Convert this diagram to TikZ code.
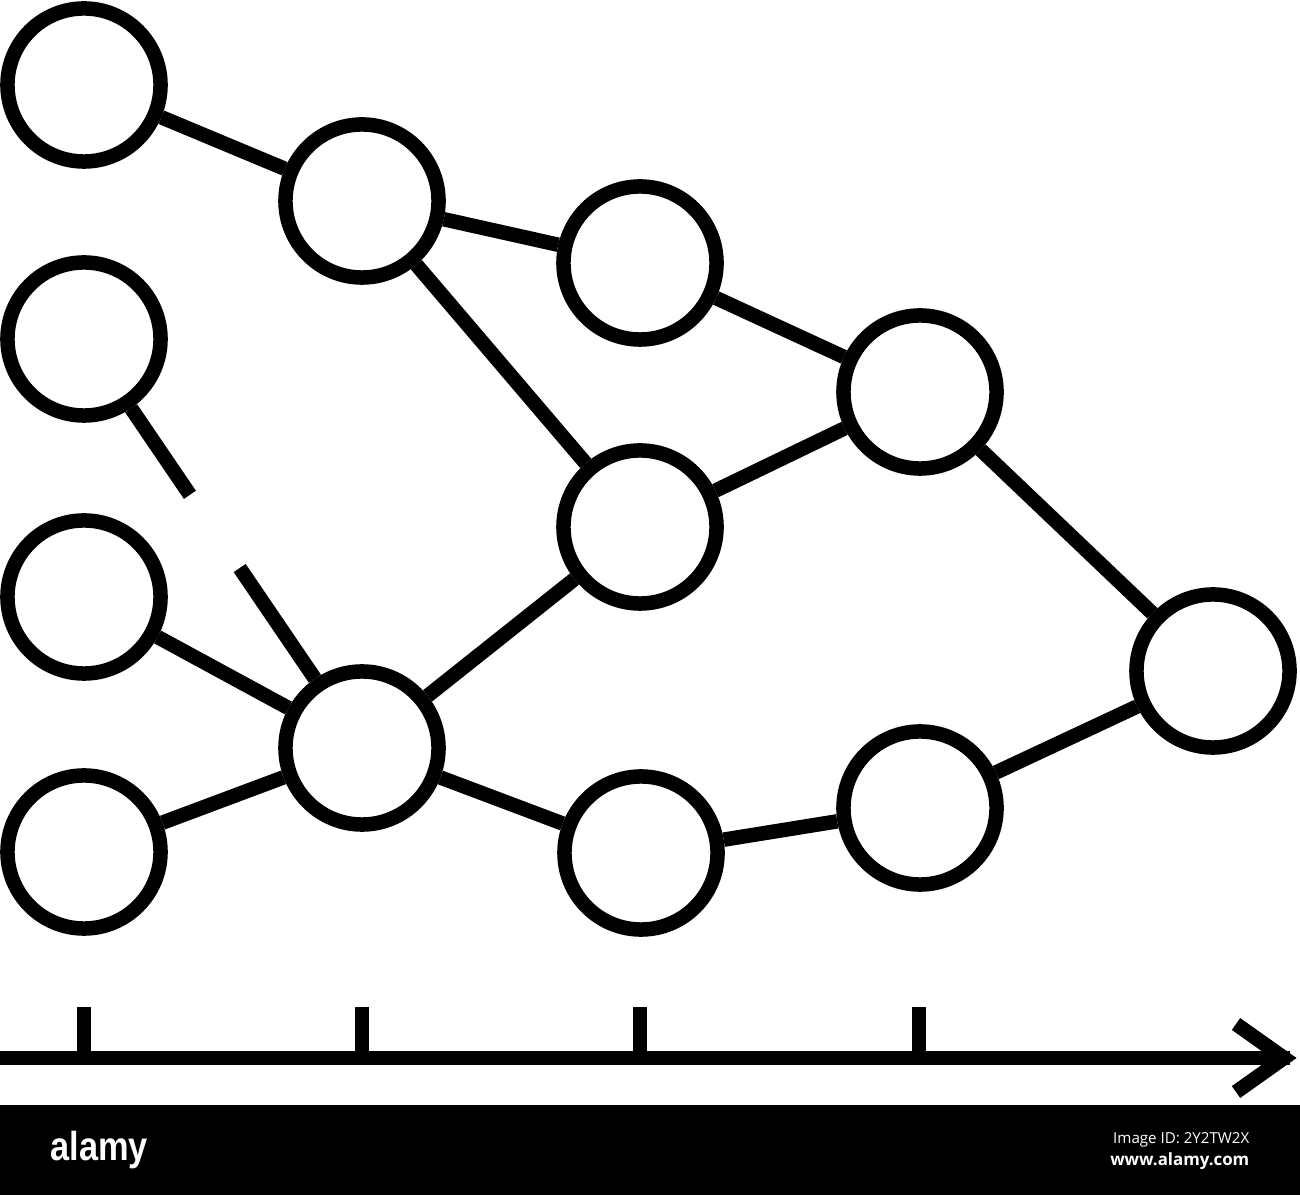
\documentclass[tikz,border=0pt]{standalone}
\usepackage{fontspec}
\setmainfont{Open Sans}
\newfontfamily\logofont{Liberation Sans}
\usetikzlibrary{calc}
\begin{document}
\begin{tikzpicture}[x=0.01cm,y=-0.01cm,
  dot/.style={circle,draw=black,line width=0.145cm,minimum size=1.53cm,inner sep=0pt},
  link/.style={line width=0.145cm},
  ]
\useasboundingbox (0,0) rectangle (1300,1195);
\fill[white] (0,0) rectangle (1300,1195);
% nodes
\node[dot] (c1) at (84,85) {};
\node[dot] (c2) at (362,201) {};
\node[dot] (c3) at (640,263) {};
\node[dot] (c4) at (920,392) {};
\node[dot] (c5) at (640,527) {};
\node[dot] (c6) at (84,339) {};
\node[dot] (c7) at (84,597) {};
\node[dot] (c8) at (362,748) {};
\node[dot] (c9) at (84,852) {};
\node[dot] (c10) at (641,853) {};
\node[dot] (c11) at (920,808) {};
\node[dot] (c12) at (1213,671) {};
% links
\draw[link] (c1) -- (c2);
\draw[link] (c2) -- (c3);
\draw[link] (c3) -- (c4);
\draw[link] (c2) -- (c5);
\draw[link] (c5) -- (c4);
\draw[link] (c4) -- (c12);
\draw[link] (c8) -- (c5);
\draw[link] (c7) -- (c8);
\draw[link] (c9) -- (c8);
\draw[link] (c8) -- (c10);
\draw[link] (c10) -- (c11);
\draw[link] (c11) -- (c12);
% broken link
\coordinate (g1) at ($(c6)!0.381!(c8)$);
\coordinate (g2) at ($(c6)!0.560!(c8)$);
\draw[link] (c6) -- (g1);
\draw[link] (g2) -- (c8);
% axis
\coordinate (a0) at (0,1058);
\coordinate (a1) at (1290,1058);
\coordinate (tip) at (1284,1058);
\coordinate (armU) at (1236,1024);
\coordinate (armD) at (1236,1092);
\draw[link] (a0) -- (a1);
\draw[link,miter limit=10] (armU) -- (tip) -- (armD);
\foreach \x/\n in {84/t1,362/t2,640/t3,919/t4}{
  \coordinate (\n a) at (\x,1007);
  \coordinate (\n b) at (\x,1058);
  \draw[link] (\n a) -- (\n b);
}
% watermark bar
\fill[black] (0,1105) rectangle (1300,1195);
\node[text=white,font=\logofont\bfseries\fontsize{11.5}{12}\selectfont,inner sep=0pt,anchor=base west,xscale=0.85] (logo) at (50,1160) {alamy};
\node[text=white,font=\fontsize{4.3}{5}\selectfont,inner sep=0pt,anchor=base east] (imgid) at (1250,1143) {Image ID: 2Y2TW2X};
\node[text=white,font=\bfseries\fontsize{4.8}{5.5}\selectfont,inner sep=0pt,anchor=base east] (www) at (1250,1165) {www.alamy.com};
\end{tikzpicture}
\end{document}
